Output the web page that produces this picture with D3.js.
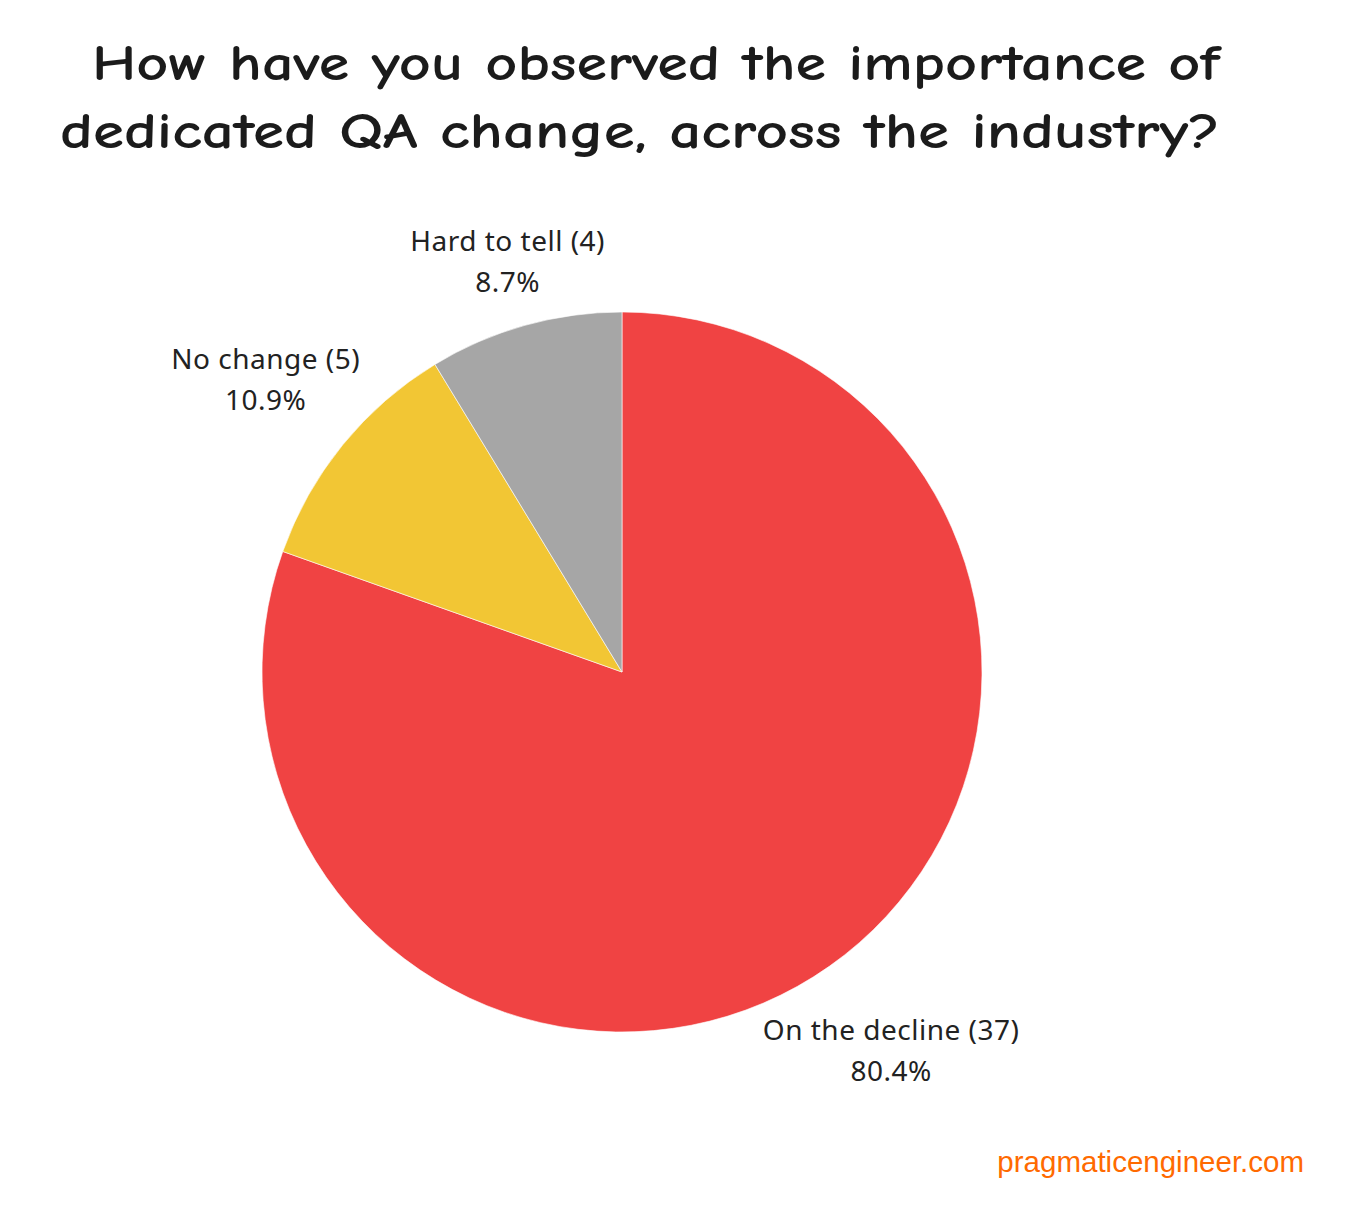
<!DOCTYPE html>
<html>
<head>
<meta charset="utf-8">
<script src="https://cdn.jsdelivr.net/npm/d3@7"></script>
<style>
  body { margin: 0; background: #fff; }
</style>
</head>
<body>
<div class="Pie-wrapper"></div>
<script>
// chart data
const categories = ["On the decline", "No change", "Hard to tell"];
const counts = [37, 5, 4];
const percentLabels = ["80.4%", "10.9%", "8.7%"];
const colors = ["#F04343", "#F2C634", "#A6A6A6"];
const titleLines = [
  "How have you observed the importance of",
  "dedicated QA change, across the industry?"
];
const watermark = "pragmaticengineer.com";

const width = 1356, height = 1214;
const cx = 622, cy = 672, radius = 360;

const svg = d3.select(".Pie-wrapper")
  .append("svg")
  .attr("width", width)
  .attr("height", height);

// title (handwritten font not available, stretched to the same width)
const titleWidths = [1128, 1160];
svg.selectAll(".title")
  .data(titleLines)
  .join("text")
  .attr("class", "title")
  .attr("x", (d, i) => i === 0 ? 656 : 640)
  .attr("y", (d, i) => 80 + i * 68)
  .attr("text-anchor", "middle")
  .attr("font-family", "'Comic Sans MS', 'Comic Neue', 'DejaVu Sans', sans-serif")
  .attr("font-size", 50)
  .attr("font-weight", "bold")
  .attr("fill", "#1b1b1b")
  .attr("textLength", (d, i) => titleWidths[i])
  .attr("lengthAdjust", "spacingAndGlyphs")
  .text(d => d);

const pieData = categories.map((c, i) => ({
  name: c, value: counts[i], pct: percentLabels[i], color: colors[i]
}));

const pie = d3.pie()
  .value(d => d.value)
  .sort(null);

const arc = d3.arc()
  .innerRadius(0)
  .outerRadius(radius);

const g = svg.append("g")
  .attr("transform", `translate(${cx},${cy})`);

const arcs = pie(pieData);

g.selectAll("path")
  .data(arcs)
  .join("path")
  .attr("d", arc)
  .attr("fill", d => d.data.color)
  .attr("stroke", "#fff")
  .attr("stroke-width", 0.6);

// labels outside the pie, box pushed out along the mid angle
const labels = g.selectAll(".lbl")
  .data(arcs)
  .join("g")
  .attr("class", "lbl")
  .attr("font-family", "'Noto Sans', 'Open Sans', sans-serif")
  .attr("font-size", 28)
  .attr("letter-spacing", 0.5)
  .attr("fill", "#222")
  .attr("text-anchor", "middle");

labels.append("text")
  .attr("class", "name")
  .attr("y", -13)
  .text(d => `${d.data.name} (${d.data.value})`);

labels.append("text")
  .attr("y", 28)
  .text(d => d.data.pct);

labels.attr("transform", function (d) {
  const w = d3.select(this).select(".name").node().getComputedTextLength();
  const h = 70;
  const a = (d.startAngle + d.endAngle) / 2;
  const s = Math.sin(a), c = -Math.cos(a);
  const r = radius + 4 + Math.abs(s) * w / 2 + Math.abs(c) * h / 2;
  return `translate(${r * s},${r * c})`;
});

svg.append("text")
  .attr("x", 1304)
  .attr("y", 1172)
  .attr("text-anchor", "end")
  .attr("font-family", "'Liberation Sans', Arial, sans-serif")
  .attr("font-size", 29.5)
  .attr("fill", "#FF6A00")
  .text(watermark);
</script>
</body>
</html>
